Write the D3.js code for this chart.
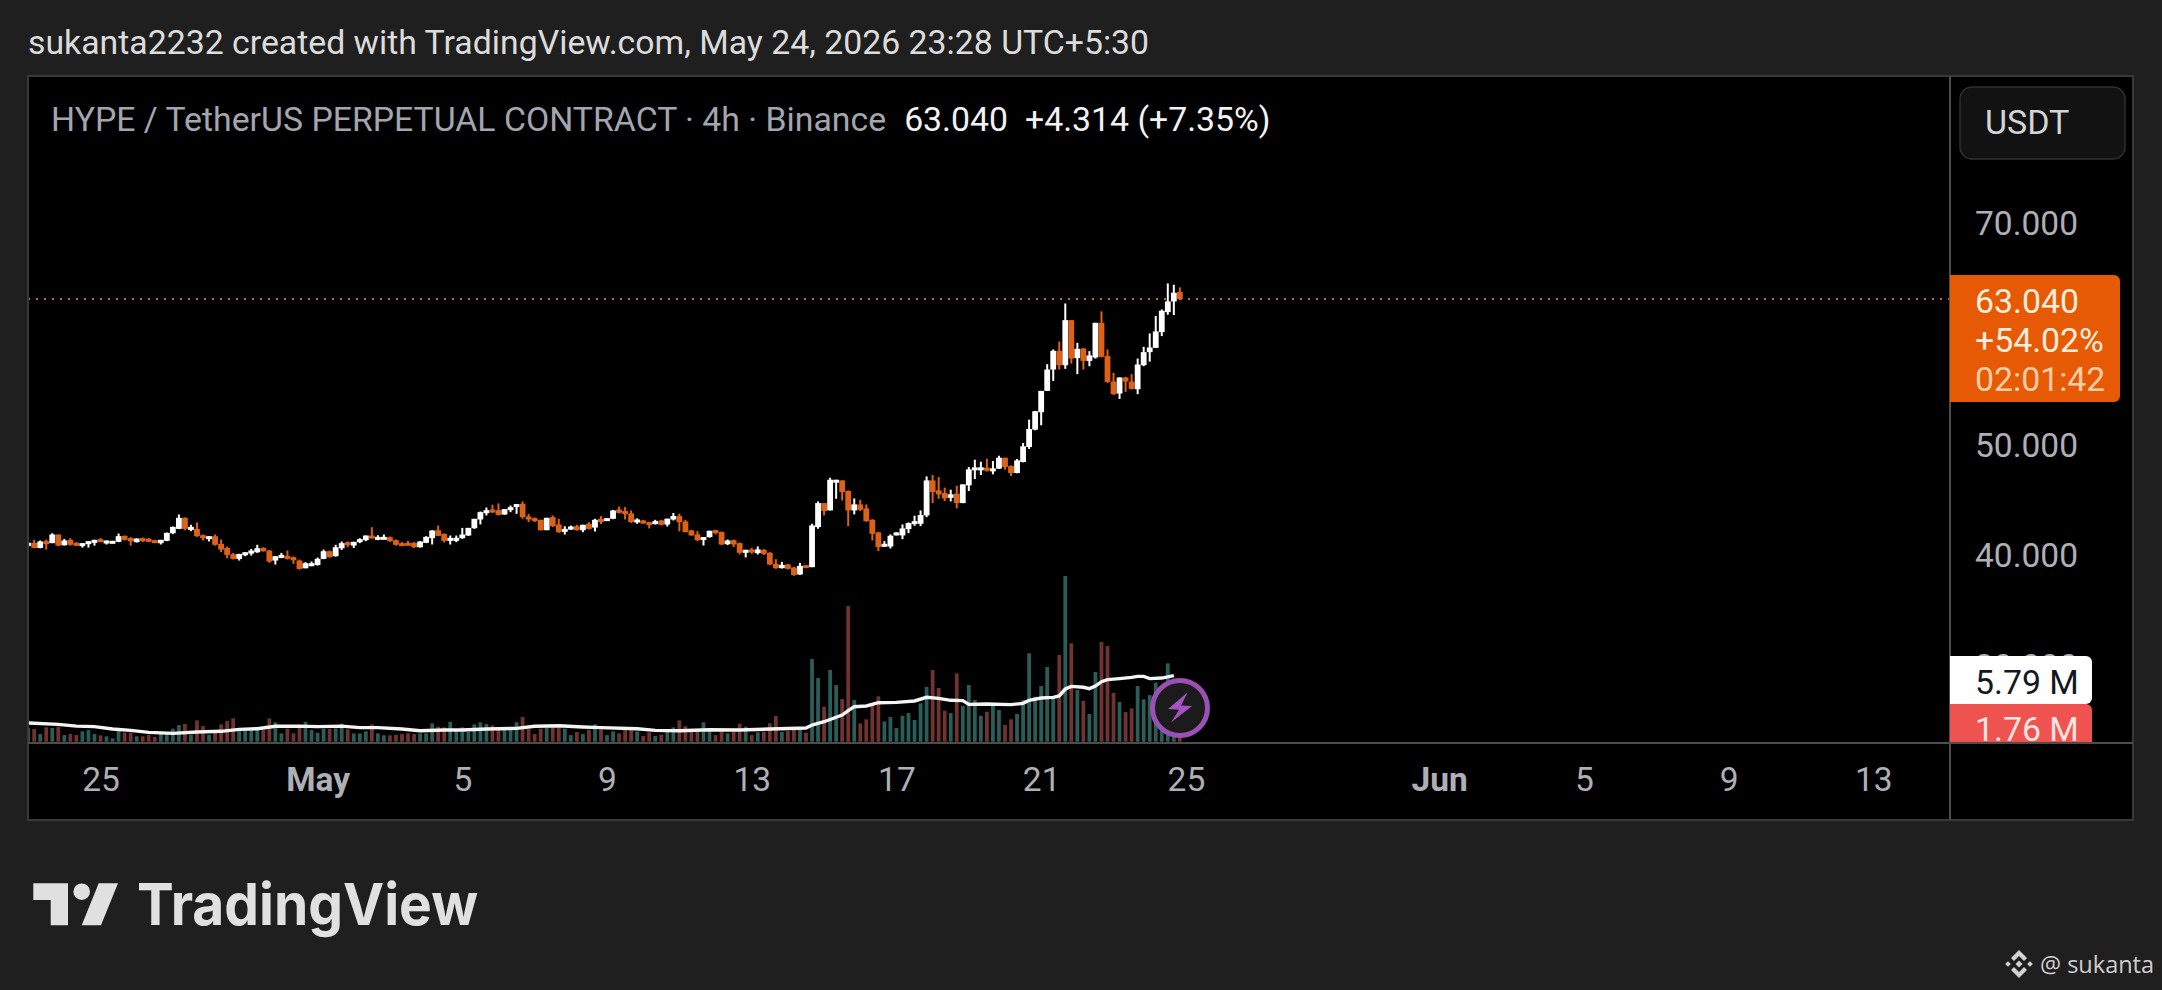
<!DOCTYPE html>
<html>
<head>
<meta charset="utf-8">
<script src="https://cdnjs.cloudflare.com/ajax/libs/d3/7.8.5/d3.min.js"></script>
<style>
  html, body { margin: 0; padding: 0; background: #1f1f1f; overflow: hidden; }
  text { font-family: Roboto, sans-serif; }
</style>
</head>
<body>
<script>
// 4h candles, oldest first
var opens = [
  40.76,41.01,40.55,41.16,40.98,41.76,40.79,41.28,41.01,40.86,
  41.04,41.19,41.34,41.10,41.10,41.10,41.64,41.43,41.07,41.43,
  41.37,41.25,40.98,41.19,41.88,42.27,43.27,42.21,42.27,41.70,
  41.52,41.61,40.92,40.55,39.98,39.56,40.01,40.16,40.16,40.55,
  40.31,39.41,39.77,39.83,39.71,39.41,38.71,39.01,39.01,39.56,
  40.25,39.80,40.52,41.07,40.76,41.07,41.25,41.67,41.43,41.46,
  41.52,41.25,40.98,41.01,41.01,40.61,41.01,41.43,42.15,41.82,
  41.31,41.34,41.43,41.67,42.33,43.12,43.78,44.02,43.96,43.57,
  44.02,44.26,44.54,43.39,43.24,43.09,42.15,43.33,42.67,42.12,
  42.27,42.51,42.15,42.73,42.39,43.18,43.12,43.18,44.02,43.88,
  43.67,42.94,43.03,42.88,42.73,43.03,42.67,43.12,43.43,42.94,
  42.13,41.77,41.31,41.53,42.16,41.98,40.89,41.25,40.98,40.26,
  40.41,40.08,40.38,40.11,39.11,38.72,39.05,38.78,38.15,38.99,
  38.81,42.43,44.60,43.94,46.59,46.65,45.69,43.94,44.48,44.12,
  43.09,41.95,40.74,40.68,41.74,41.68,42.25,42.73,42.73,43.49,
  46.65,45.75,45.51,45.08,45.45,44.60,46.20,47.65,47.68,47.80,
  47.62,47.71,48.70,47.95,47.32,48.31,49.67,51.24,52.81,54.74,
  56.67,58.36,57.06,61.13,57.70,58.57,57.45,57.76,60.89,57.88,
  55.58,54.50,55.95,55.58,54.89,57.06,58.24,58.63,60.05,61.86,
  62.82,63.67
];
var highs = [
  41.07,41.28,41.22,41.31,41.88,41.76,41.37,41.43,41.07,40.98,
  41.16,41.28,41.43,41.22,41.19,41.85,41.67,41.52,41.40,41.49,
  41.46,41.28,41.28,41.94,42.48,43.57,43.30,42.64,42.85,41.76,
  41.61,41.76,41.31,40.67,40.10,40.01,40.16,40.46,40.83,40.61,
  40.37,39.80,40.10,40.31,39.77,39.50,39.26,39.32,39.68,40.40,
  40.31,40.83,41.13,41.13,41.10,41.43,41.67,42.42,41.70,41.76,
  41.58,41.31,41.07,41.19,41.07,41.16,41.61,42.15,42.57,41.85,
  41.67,41.67,42.36,42.36,43.18,43.84,44.20,44.45,44.57,44.05,
  44.38,44.51,44.75,43.63,43.30,43.09,43.27,43.48,43.18,42.51,
  42.57,42.64,42.64,42.88,43.18,43.42,43.24,43.99,44.29,44.24,
  43.94,43.22,43.09,42.91,43.09,43.09,43.19,43.70,43.64,43.09,
  42.19,42.07,41.53,42.10,42.19,42.04,41.31,41.31,41.04,40.38,
  40.56,40.68,40.44,40.17,39.53,39.29,39.11,38.84,39.20,39.02,
  42.73,44.75,44.60,46.89,46.71,46.65,45.75,45.02,44.90,44.48,
  43.15,42.01,41.16,41.77,41.95,42.67,42.85,43.46,43.94,47.01,
  47.14,46.95,45.99,45.81,46.17,46.29,47.86,48.52,48.34,48.61,
  48.40,48.88,48.70,48.01,48.58,50.03,52.14,52.93,54.74,57.15,
  58.48,59.20,62.64,61.13,59.08,58.63,58.33,60.89,61.92,58.48,
  56.37,55.95,56.01,56.25,57.66,58.72,59.93,61.50,62.10,64.45,
  64.33,64.09
];
var lows = [
  40.61,40.52,40.52,40.40,40.98,40.70,40.76,40.76,40.76,40.58,
  40.58,40.76,41.13,40.86,40.98,41.07,41.22,40.76,41.04,41.07,
  41.07,41.01,40.86,41.16,41.79,42.24,42.15,42.06,41.55,41.22,
  41.13,40.76,40.16,39.62,39.50,39.41,39.80,39.86,40.10,40.22,
  39.20,39.05,39.62,39.50,39.11,38.59,38.71,38.89,38.95,39.53,
  39.68,39.77,40.37,40.61,40.55,40.98,41.16,41.40,41.25,41.37,
  41.10,40.76,40.76,40.79,40.55,40.58,40.98,40.86,41.61,41.04,
  40.86,41.07,41.37,41.64,42.27,42.67,43.48,43.72,43.48,43.54,
  43.78,43.63,43.18,42.88,42.88,42.12,42.15,42.45,41.91,41.76,
  42.18,42.12,41.97,42.21,42.03,42.70,43.03,43.15,43.66,43.12,
  42.82,42.73,42.73,42.31,42.67,42.58,42.49,43.03,42.04,41.95,
  41.65,41.16,40.77,41.47,41.77,40.80,40.80,40.62,39.96,39.69,
  40.02,39.96,39.90,38.99,38.66,38.69,38.60,38.03,38.12,38.78,
  38.81,42.28,43.49,43.94,44.99,44.84,42.52,43.58,43.88,42.91,
  41.22,40.26,40.68,40.50,41.68,41.34,41.89,42.55,42.52,43.33,
  44.60,44.99,44.78,44.75,44.12,44.60,45.69,46.77,47.14,47.44,
  47.20,47.68,47.62,47.05,47.29,48.28,49.49,51.18,51.63,54.74,
  55.64,56.67,56.73,57.21,56.25,56.67,56.97,57.66,57.76,55.46,
  54.38,54.01,54.65,54.86,54.44,56.97,57.39,58.63,59.69,61.62,
  61.59,62.94
];
var closes = [
  41.01,40.55,41.13,41.01,41.76,40.76,41.22,40.83,40.83,40.98,
  41.16,41.28,41.19,41.22,41.19,41.61,41.28,41.19,41.40,41.19,
  41.13,41.07,41.28,41.91,42.45,43.27,42.27,42.45,41.61,41.55,
  41.61,40.83,40.40,39.92,39.56,40.01,40.16,40.31,40.52,40.25,
  39.32,39.80,39.92,39.56,39.50,38.65,39.17,39.17,39.56,40.25,
  39.71,40.61,40.98,40.83,41.10,41.34,41.67,41.43,41.55,41.55,
  41.16,40.83,40.86,40.89,40.61,41.13,41.55,42.12,41.64,41.19,
  41.46,41.46,41.76,42.36,43.18,43.78,43.96,43.78,43.54,44.05,
  44.23,44.51,43.33,43.12,43.12,42.15,43.27,42.51,41.97,42.27,
  42.48,42.15,42.64,42.27,43.09,42.88,43.24,43.93,43.72,43.70,
  42.88,43.12,42.82,42.79,42.97,42.64,43.19,43.43,42.88,41.98,
  41.68,41.25,41.53,42.10,42.04,40.86,41.22,40.86,40.11,40.38,
  40.20,40.41,40.02,39.05,38.72,39.02,38.66,38.09,38.93,38.81,
  42.58,44.60,43.88,46.71,46.71,45.60,43.94,44.48,44.00,42.97,
  41.83,40.62,40.92,41.65,41.95,42.31,42.79,42.97,43.52,46.65,
  45.60,45.39,45.02,45.39,44.60,46.29,47.65,47.83,47.83,47.62,
  47.74,48.70,47.86,47.32,48.46,49.73,51.30,52.90,54.74,56.67,
  58.36,57.06,61.13,57.66,58.54,57.45,57.94,60.89,57.82,55.55,
  54.44,55.95,55.58,54.92,57.12,58.24,58.66,60.11,61.98,62.82,
  63.61,63.04
];
// volume in millions, one per candle
var volumes = [
  1.20,1.11,0.67,1.26,1.20,1.32,0.58,0.67,0.58,0.91,
  1.02,0.67,0.56,0.47,0.29,0.96,0.79,0.79,0.47,0.47,
  0.61,0.41,0.73,0.73,1.14,1.46,1.55,0.61,1.87,1.37,
  0.61,0.85,1.52,1.81,2.05,0.96,1.02,1.02,1.08,1.02,
  2.05,1.70,0.73,1.14,0.73,1.26,1.75,1.02,0.79,1.14,
  1.14,1.17,1.58,1.08,0.73,0.73,0.91,1.52,0.73,0.56,
  0.56,0.61,0.67,0.73,0.67,0.73,0.73,1.61,1.32,1.26,
  1.75,0.96,1.26,0.85,1.52,1.70,1.55,1.43,1.08,1.08,
  1.14,1.70,2.16,1.14,0.67,1.14,1.26,1.26,1.20,1.14,
  0.58,0.85,0.67,1.05,1.52,1.08,0.58,0.91,0.73,1.02,
  1.02,0.91,0.50,0.82,0.50,0.61,1.02,1.26,1.87,1.37,
  0.88,0.88,1.70,0.91,0.58,0.88,0.73,0.88,1.58,1.32,
  0.58,0.82,0.88,1.61,2.25,0.85,0.94,1.08,1.08,0.79,
  7.25,5.58,3.07,6.29,4.97,3.74,11.90,3.65,1.61,1.96,
  3.22,3.98,1.78,2.16,1.20,2.28,2.51,1.90,3.36,4.80,
  6.29,4.71,2.72,2.51,5.99,3.13,4.97,3.65,2.28,2.63,
  3.22,2.78,1.46,1.96,2.43,3.65,7.75,3.95,4.88,6.55,
  3.95,7.60,14.53,8.63,4.53,3.57,2.43,6.11,8.74,8.39,
  4.27,3.48,2.60,2.92,4.88,3.71,4.09,5.18,4.68,6.87,
  3.20,1.76
];
// volume moving average, read at the candles where the line bends
var maIndex = [0,5,8,11,14,17,20,24,28,32,35,38,41,45,48,52,55,58,62,65,69,72,76,81,84,88,92,95,101,104,108,113,118,123,129,130,132,135,136,137,139,141,144,147,149,151,153,155,156,159,163,165,166,168,170,171,172,173,175,176,177,178,179,181,183,184,185,186,188,190];
var maValues = [1.64,1.52,1.37,1.32,1.11,0.99,0.82,0.73,0.85,0.91,1.08,1.14,1.35,1.37,1.32,1.37,1.23,1.23,1.11,0.96,1.02,1.02,1.11,1.17,1.35,1.40,1.29,1.23,1.14,0.99,0.96,1.05,1.02,1.11,1.20,1.46,1.75,2.34,2.72,3.07,3.13,3.42,3.45,3.57,3.89,3.80,3.63,3.60,3.27,3.30,3.25,3.36,3.63,3.83,3.89,4.01,4.62,4.85,4.77,4.65,4.88,5.26,5.44,5.53,5.64,5.73,5.73,5.53,5.58,5.79];

var priceTicks = [30, 40, 50, 70];
var dateTicks = ["2026-04-25","2026-05-01","2026-05-05","2026-05-09","2026-05-13","2026-05-17","2026-05-21","2026-05-25","2026-06-01","2026-06-05","2026-06-09","2026-06-13"];
var dateLabels = ["25","May","5","9","13","17","21","25","Jun","5","9","13"];

var lastPrice = 63.04;
var lastCandle = new Date("2026-05-24T20:00:00Z");

var width = 2162, height = 990;
var left = 28, right = 2133, top_ = 76, bottom = 820, axisX = 1950, axisY = 743;

var bg = "#1f1f1f", border = "#383838", upColor = "#ffffff", downColor = "#dd6118",
    volUp = "#2b5c57", volDown = "#6f3331", boxOrange = "#e65a06", tickColor = "#aeb0b6";

var svg = d3.select("body").append("svg")
    .attr("width", width)
    .attr("height", height)
    .style("display", "block");

svg.append("rect").attr("width", width).attr("height", height).attr("fill", bg);

// panel
svg.append("rect")
    .attr("x", left).attr("y", top_)
    .attr("width", right - left).attr("height", bottom - top_)
    .attr("fill", "#000").attr("stroke", border).attr("stroke-width", 2);

var defs = svg.append("defs");
defs.append("clipPath").attr("id", "pane").append("rect")
    .attr("x", left + 1).attr("y", top_).attr("width", axisX - left - 1).attr("height", axisY - top_ - 1);
defs.append("clipPath").attr("id", "labels").append("rect")
    .attr("x", axisX).attr("y", top_).attr("width", right - axisX).attr("height", axisY - top_ - 1);

// scales
var xTime = d3.scaleUtc()
    .domain([new Date("2026-04-25T00:00:00Z"), new Date("2026-06-13T00:00:00Z")])
    .range([100.5, 1873.3]);
var yPrice = d3.scaleLinear().domain([40, 70]).range([554, 222]);
var yVol = d3.scaleLinear().domain([0, 14.53]).range([741.7, 576]);

function candleTime(i) {
  return d3.utcHour.offset(lastCandle, -4 * (closes.length - 1 - i));
}

var candles = d3.range(closes.length).map(function(i) {
  return { i: i, o: opens[i], h: highs[i], l: lows[i], c: closes[i], v: volumes[i], up: closes[i] >= opens[i] };
});

var pane = svg.append("g").attr("clip-path", "url(#pane)");

// volume bars
pane.selectAll("rect.vol")
    .data(candles)
  .enter().append("rect")
    .attr("class", "vol")
    .attr("x", function(d) { return xTime(candleTime(d.i)) - 1.9; })
    .attr("width", 3.8)
    .attr("y", function(d) { return yVol(d.v); })
    .attr("height", function(d) { return yVol(0) - yVol(d.v); })
    .attr("fill", function(d) { return d.up ? volUp : volDown; });

// volume MA
var maLine = d3.line()
    .x(function(d) { return xTime(candleTime(d[0])); })
    .y(function(d) { return yVol(d[1]); });

pane.append("path")
    .attr("d", maLine(d3.zip(maIndex, maValues)))
    .attr("fill", "none")
    .attr("stroke", "#f4f4f4")
    .attr("stroke-width", 3.4);

// last price line
pane.append("line")
    .attr("x1", left).attr("x2", axisX)
    .attr("y1", yPrice(lastPrice)).attr("y2", yPrice(lastPrice))
    .attr("stroke", "#e07a48")
    .attr("stroke-opacity", 0.85)
    .attr("stroke-width", 2)
    .attr("stroke-dasharray", "2 6");

// candles
var candle = pane.selectAll("g.candle")
    .data(candles)
  .enter().append("g")
    .attr("class", "candle")
    .attr("transform", function(d) { return "translate(" + xTime(candleTime(d.i)) + ",0)"; });

candle.append("line")
    .attr("y1", function(d) { return yPrice(d.h); })
    .attr("y2", function(d) { return yPrice(d.l); })
    .attr("stroke", function(d) { return d.up ? upColor : downColor; })
    .attr("stroke-width", 2);

candle.append("rect")
    .attr("x", -2.9)
    .attr("width", 5.8)
    .attr("y", function(d) { return yPrice(Math.max(d.o, d.c)); })
    .attr("height", function(d) { return Math.max(3, Math.abs(yPrice(d.o) - yPrice(d.c))); })
    .attr("fill", function(d) { return d.up ? upColor : downColor; });

// lines between panes
svg.append("line").attr("x1", left).attr("x2", right).attr("y1", axisY).attr("y2", axisY)
    .attr("stroke", "#4d4d4d").attr("stroke-width", 2);
svg.append("line").attr("x1", axisX).attr("x2", axisX).attr("y1", top_).attr("y2", bottom)
    .attr("stroke", "#4d4d4d").attr("stroke-width", 2);

// price axis
var yAxis = d3.axisRight(yPrice)
    .tickValues(priceTicks)
    .tickSize(0)
    .tickPadding(25)
    .tickFormat(d3.format(".3f"));

svg.append("g")
    .attr("clip-path", "url(#labels)")
  .append("g")
    .attr("transform", "translate(" + axisX + ",2)")
    .call(yAxis)
    .call(function(g) { g.select(".domain").remove(); })
    .selectAll("text")
    .attr("fill", tickColor)
    .style("font-size", "33.5px");

// date axis
var xAxis = d3.axisBottom(xTime)
    .tickValues(dateTicks.map(function(d) { return new Date(d + "T00:00:00Z"); }))
    .tickSize(0)
    .tickPadding(24)
    .tickFormat(function(d, i) { return dateLabels[i]; });

svg.append("g")
    .attr("transform", "translate(0," + axisY + ")")
    .call(xAxis)
    .call(function(g) { g.select(".domain").remove(); })
    .selectAll("text")
    .attr("fill", tickColor)
    .style("font-size", "33.5px")
    .style("font-weight", function(d, i) { return /[A-Z]/.test(dateLabels[i]) ? 700 : 400; });

// USDT button
svg.append("rect")
    .attr("x", 1960).attr("y", 87).attr("width", 165).attr("height", 72).attr("rx", 12)
    .attr("fill", "#121212").attr("stroke", "#2f2f2f").attr("stroke-width", 1.5);
svg.append("text").attr("x", 1985).attr("y", 134)
    .attr("fill", "#d4d4d4").style("font-size", "34px").text("USDT");

// last price box
svg.append("path")
    .attr("d", "M1950,275H2114a6,6 0 0 1 6,6V396a6,6 0 0 1 -6,6H1950Z")
    .attr("fill", boxOrange);
[["63.040", 313, "#ffeedd"], ["+54.02%", 352, "#ffeedd"], ["02:01:42", 391, "#ffcda6"]].forEach(function(t) {
  svg.append("text").attr("x", 1975).attr("y", t[1])
      .attr("fill", t[2]).style("font-size", "33.8px").text(t[0]);
});

// volume labels
var labels = svg.append("g").attr("clip-path", "url(#labels)");
labels.append("path")
    .attr("d", "M1950,656H2086a6,6 0 0 1 6,6V698a6,6 0 0 1 -6,6H1950Z")
    .attr("fill", "#ffffff");
labels.append("text").attr("x", 1975).attr("y", 694)
    .attr("fill", "#131722").style("font-size", "33.8px").text("5.79 M");
labels.append("path")
    .attr("d", "M1950,704H2086a6,6 0 0 1 6,6V760H1950Z")
    .attr("fill", "#ef5350");
labels.append("text").attr("x", 1975).attr("y", 741)
    .attr("fill", "#ffe4e2").style("font-size", "33.8px").text("1.76 M");

// bolt badge over the last bars
var badge = svg.append("g").attr("transform", "translate(1180,708)");
badge.append("circle").attr("r", 27.5)
    .attr("fill", "#1b1b1b").attr("stroke", "#9c4fb4").attr("stroke-width", 5);
badge.append("path")
    .attr("d", "M7.5,-15.5L-12,1L-1,1.7L-9,14.5L12,-2L1,-2.5Z")
    .attr("fill", "#a552c4");

// header and legend
svg.append("text").attr("x", 28).attr("y", 54)
    .attr("fill", "#dcdcdc").style("font-size", "33.8px")
    .text("sukanta2232 created with TradingView.com, May 24, 2026 23:28 UTC+5:30");

var legend = svg.append("text").attr("x", 51).attr("y", 131).style("font-size", "33.8px");
legend.append("tspan").attr("fill", "#a3a6af").text("HYPE / TetherUS PERPETUAL CONTRACT · 4h · Binance");
legend.append("tspan").attr("dx", 18).attr("fill", "#f2f2f2").text("63.040");
legend.append("tspan").attr("dx", 17).attr("fill", "#f2f2f2").text("+4.314 (+7.35%)");

// TradingView logo
var logo = svg.append("g").attr("transform", "translate(0,840)").attr("fill", "#e0e0e0");
logo.append("path").attr("d", "M33.3,43.3H68V85.3H50.7V60H33.3Z");
logo.append("circle").attr("cx", 81.7).attr("cy", 51.7).attr("r", 8.3);
logo.append("path").attr("d", "M98.7,43.3H118L101,85.3H81.7Z");
logo.append("text").attr("x", 137).attr("y", 85.3)
    .attr("textLength", 341).attr("lengthAdjust", "spacingAndGlyphs")
    .style("font-family", "Inter, sans-serif").style("font-weight", 700).style("font-size", "58px")
    .text("TradingView");

// bottom right credit
var mark = svg.append("g").attr("transform", "translate(2019,964)").attr("fill", "#d2d2d2");
mark.append("path").attr("d", "M0,-14L8,-6L5,-3L0,-8L-5,-3L-8,-6Z");
mark.append("path").attr("d", "M0,14L8,6L5,3L0,8L-5,3L-8,6Z");
mark.append("path").attr("d", "M0,-3.5L3.5,0L0,3.5L-3.5,0Z");
mark.append("path").attr("d", "M-11,-2.8L-8.2,0L-11,2.8L-13.8,0Z");
mark.append("path").attr("d", "M11,-2.8L13.8,0L11,2.8L8.2,0Z");
svg.append("text").attr("x", 2040).attr("y", 973)
    .attr("fill", "#cfcfcf")
    .style("font-family", "'Open Sans', sans-serif").style("font-size", "23.5px")
    .text("@ sukanta");
</script>
</body>
</html>
